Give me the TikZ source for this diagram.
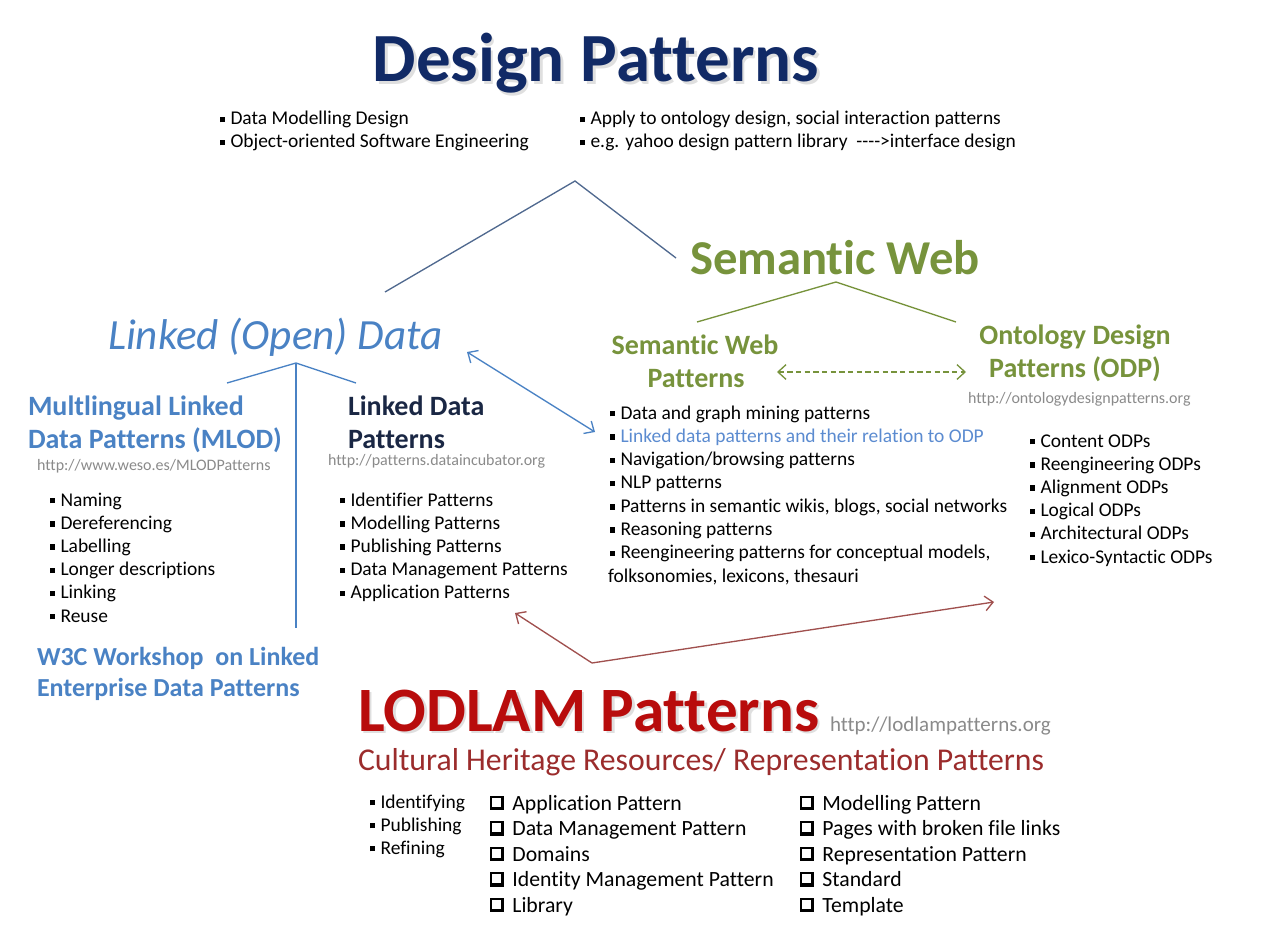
\documentclass[tikz,border=0pt]{standalone}
\usepackage{fontspec}
\setmainfont{Carlito}[Ligatures=NoCommon]
\usetikzlibrary{arrows.meta}
\definecolor{navy}{HTML}{112A66}
\definecolor{slate}{HTML}{50698F}
\definecolor{swgreen}{HTML}{77933C}
\definecolor{ldblue}{HTML}{4A82C4}
\definecolor{ldnavy}{HTML}{1A2744}
\definecolor{urlgray}{HTML}{8A8A8A}
\definecolor{lblue}{HTML}{5B8BD0}
\definecolor{lodred}{HTML}{B80C0C}
\definecolor{subred}{HTML}{9B2C2C}
\definecolor{arrred}{HTML}{A0504E}
\newcommand\sqb{\raisebox{0.28ex}{\rule{0.24em}{0.28em}}\hspace{0.3em}}
\newcommand\cbx{\leavevmode
  \rlap{\raisebox{-0.01em}{\rule{0.66em}{0.66em}}}%
  \rlap{\hspace{0.08em}\raisebox{0.14em}{\textcolor{white}{\rule{0.43em}{0.43em}}}}%
  \hspace{0.66em}\hspace{0.37em}}
\begin{document}
\begin{tikzpicture}[x=0.75pt,y=-0.75pt,
  every node/.style={inner sep=0pt,outer sep=0pt},
  item/.style={anchor=base west,font=\fontsize{14.6}{17.5}\selectfont,text=black},
  cbitem/.style={anchor=base west,font=\fontsize{16.3}{19}\selectfont,text=black},
  url/.style={anchor=base west,font=\fontsize{12}{14}\selectfont,text=urlgray},
  subhead/.style={font=\bfseries\fontsize{21}{25}\selectfont},
  w3c/.style={anchor=base west,font=\bfseries\fontsize{19.5}{23}\selectfont,text=ldblue},
  conn/.style={line width=1pt},
  tip/.style={-{Straight Barb[length=6pt,width=11pt]}},
  dtip/.style={{Straight Barb[length=6pt,width=11pt]}-{Straight Barb[length=6pt,width=11pt]}}
]
\useasboundingbox (0,0) rectangle (1274,938);
% Title
\node[anchor=base,font=\bfseries\fontsize{51.75}{60}\selectfont,text=gray!25] (dpshadow) at (598.5,84.5) {Design Patterns};
\node[anchor=base,font=\bfseries\fontsize{51.75}{60}\selectfont,text=navy] (dp) at (596,82) {Design Patterns};
\node[item] (dpa) at (220,125) {\sqb Data Modelling Design};
\node[item] (dpb) at (220,148) {\sqb Object-oriented Software Engineering};
\node[item] (dpc) at (580,125) {\sqb Apply to ontology design, social interaction patterns};
\node[item] (dpd) at (580,148) {\sqb e.g. yahoo design pattern library\ \ -{}-{}-{}->interface design};
\coordinate (dpapex) at (575,181);
\coordinate (dpl) at (385,292);
\coordinate (dpr) at (676,258);
\draw[conn,slate] (dpl) -- (dpapex) -- (dpr);
% Semantic Web
\node[anchor=base,font=\bfseries\fontsize{36.5}{42}\selectfont,text=swgreen] (sw) at (835,274) {Semantic Web};
\coordinate (swapex) at (836,282);
\coordinate (swl) at (697,322);
\coordinate (swr) at (956,322);
\draw[conn,swgreen] (swl) -- (swapex) -- (swr);
\node[subhead,anchor=base,text=swgreen] (swp1) at (695,354) {Semantic Web};
\node[subhead,anchor=base,text=swgreen] (swp2) at (696,387) {Patterns};
\node[subhead,anchor=base,text=swgreen] (odp1) at (1075,344) {Ontology Design};
\node[subhead,anchor=base,text=swgreen] (odp2) at (1075,377) {Patterns (ODP)};
\node[url] (odpurl) at (968,403) {http://ontologydesignpatterns.org};
\coordinate (dashl) at (777,372);
\coordinate (dashr) at (966,372);
\draw[conn,swgreen,dash pattern=on 4pt off 2.5pt,dtip] (dashl) -- (dashr);
\foreach \t [count=\i] in {Data and graph mining patterns, {\color{lblue}Linked data patterns and their relation to ODP}, Navigation/browsing patterns, NLP patterns, {Patterns in semantic wikis, blogs, social networks}, Reasoning patterns, {Reengineering patterns for conceptual models,}}
  \node[item] (swi\i) at (610,{419+23.3*(\i-1)}) {\sqb\t};
\node[item] (swi8) at (608,582) {folksonomies, lexicons, thesauri};
\foreach \t [count=\i] in {Content ODPs, Reengineering ODPs, Alignment ODPs, Logical ODPs, Architectural ODPs, Lexico-Syntactic ODPs}
  \node[item] (odpi\i) at (1030,{447+23.2*(\i-1)}) {\sqb\t};
% Linked (Open) Data
\node[anchor=base west,font=\itshape\fontsize{32.3}{38}\selectfont,text=ldblue] (lod) at (108,349) {Linked (Open) Data};
\coordinate (lodapex) at (296,363);
\coordinate (lodl) at (227,383);
\coordinate (lodr) at (356,383);
\coordinate (lodbot) at (296,628);
\draw[conn,ldblue] (lodl) -- (lodapex) -- (lodr);
\draw[conn,ldblue] (lodapex) -- (lodbot);
\node[subhead,anchor=base west,text=ldblue] (mlod1) at (28,415) {Multlingual Linked};
\node[subhead,anchor=base west,text=ldblue] (mlod2) at (28,448) {Data Patterns (MLOD)};
\node[url] (mlodurl) at (37,470) {http://www.weso.es/MLODPatterns};
\foreach \t [count=\i] in {Naming, Dereferencing, Labelling, Longer descriptions, Linking, Reuse}
  \node[item] (mlodi\i) at (50,{506+23.2*(\i-1)}) {\sqb\t};
\node[w3c] (w3c1) at (37,665) {W3C Workshop\ \ on Linked};
\node[w3c] (w3c2) at (37,696) {Enterprise Data Patterns};
\node[subhead,anchor=base west,text=ldnavy] (ldp1) at (348,415) {Linked Data};
\node[subhead,anchor=base west,text=ldnavy] (ldp2) at (348,448) {Patterns};
\node[url] (ldurl) at (328,465) {http://patterns.dataincubator.org};
\foreach \t [count=\i] in {Identifier Patterns, Modelling Patterns, Publishing Patterns, Data Management Patterns, Application Patterns}
  \node[item] (ldi\i) at (340,{506+23.2*(\i-1)}) {\sqb\t};
\coordinate (bluea) at (467,352);
\coordinate (blueb) at (595,432);
\draw[conn,ldblue,dtip] (bluea) -- (blueb);
% LODLAM
\coordinate (redapex) at (592,663);
\coordinate (redl) at (515,613);
\coordinate (redr) at (994,602);
\draw[conn,arrred,tip] (redapex) -- (redl);
\draw[conn,arrred,tip] (redapex) -- (redr);
\node[anchor=base west,font=\bfseries\fontsize{47.4}{54}\selectfont,text=gray!25] (lodlamshadow) at (360.5,733.5) {LODLAM Patterns};
\node[anchor=base west,font=\bfseries\fontsize{47.4}{54}\selectfont,text=lodred] (lodlam) at (358,731) {LODLAM Patterns};
\node[anchor=base west,font=\fontsize{15.75}{18}\selectfont,text=urlgray] (lodlamurl) at (830,731) {http://lodlampatterns.org};
\node[anchor=base west,font=\fontsize{23.8}{28}\selectfont,text=subred] (chr) at (358,770) {Cultural Heritage Resources/ Representation Patterns};
\foreach \t [count=\i] in {Identifying, Publishing, Refining}
  \node[item] (lli\i) at (370,{808+23*(\i-1)}) {\sqb\t};
\foreach \t [count=\i] in {Application Pattern, Data Management Pattern, Domains, Identity Management Pattern, Library}
  \node[cbitem] (cba\i) at (490,{810+25.5*(\i-1)}) {\cbx\t};
\foreach \t [count=\i] in {Modelling Pattern, Pages with broken file links, Representation Pattern, Standard, Template}
  \node[cbitem] (cbb\i) at (800,{810+25.5*(\i-1)}) {\cbx\t};
\end{tikzpicture}
\end{document}
